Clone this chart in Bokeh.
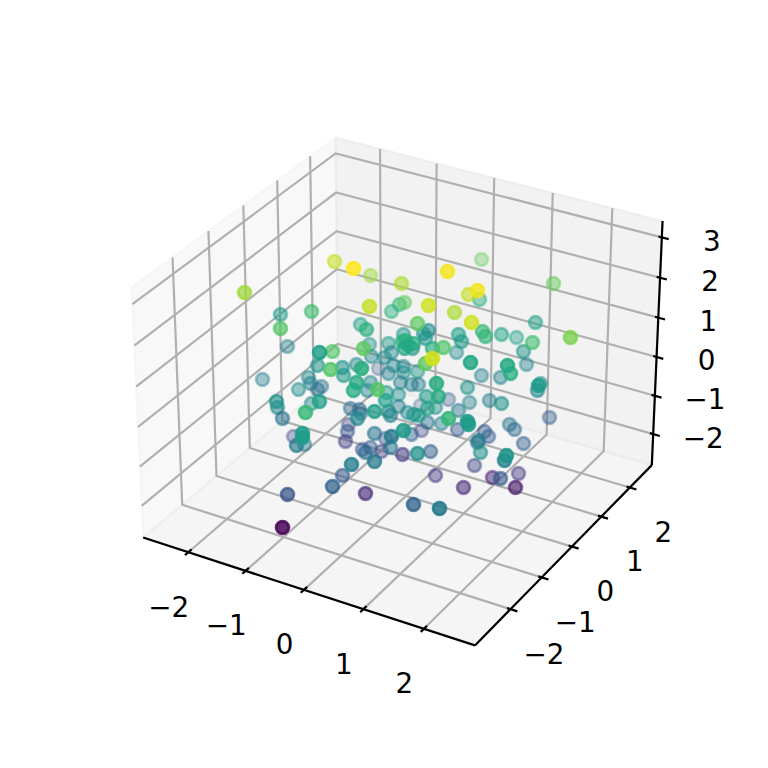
import numpy as np
from bokeh.plotting import figure, ColumnDataSource
from bokeh.embed import file_html
from bokeh.resources import INLINE
from bokeh.transform import linear_cmap
from bokeh.palettes import Viridis256
from bokeh.core.properties import value

# Scatter marks (horizontal, vertical reading), colour value, depth shade
read_h = [334,353,370,401,244,369,399,404,391,280,
          311,280,360,366,287,369,363,403,388,371,
          391,402,408,404,384,319,332,317,330,481,
          447,553,477,468,479,428,454,471,417,535,
          482,485,501,516,570,532,458,461,456,523,
          526,432,443,432,425,470,507,510,428,423,
          425,405,413,412,262,342,343,356,361,356,
          353,308,310,298,321,317,370,367,377,378,
          276,277,282,311,319,305,350,359,360,357,
          374,348,347,345,374,302,302,293,388,393,
          403,403,417,481,500,400,411,418,436,467,
          386,385,398,426,438,448,435,427,469,489,
          501,398,420,390,388,407,413,418,458,448,
          467,468,441,427,457,421,484,488,403,391,
          411,478,296,304,385,417,402,390,381,370,
          362,365,374,351,342,332,287,365,413,282,
          549,509,514,523,477,480,506,504,474,518,
          435,492,500,515,463,439,430,540,538,537]
read_v = [261,268,275,283,292,306,304,302,311,314,
          311,328,324,329,346,344,348,334,343,356,
          352,341,345,348,357,352,351,365,369,259,
          271,283,290,294,299,305,312,322,323,322,
          331,336,334,337,337,342,334,341,352,351,
          364,358,347,348,363,362,365,373,330,333,
          338,340,343,348,379,367,375,364,368,382,
          390,377,383,389,386,389,382,390,389,368,
          401,407,418,403,401,412,408,409,413,418,
          411,424,431,441,433,433,437,436,373,365,
          366,372,371,375,377,382,384,384,383,387,
          392,400,394,396,396,399,407,408,402,400,
          403,406,405,415,411,412,414,415,410,418,
          421,424,423,422,429,430,431,436,430,436,
          434,440,445,444,438,453,454,447,451,447,
          449,452,461,464,475,486,494,493,504,527,
          417,424,429,443,442,452,455,460,465,473,
          475,477,478,487,487,508,451,383,385,390]
colour_value = [2.5,3.0,2.2,2.3,2.2,2.5,1.0,1.6,1.0,0.5,
                1.3,1.5,0.6,1.0,-0.2,0.2,1.6,0.3,0.4,0.2,
                0.0,1.0,0.9,0.7,0.1,0.6,1.5,0.3,1.5,1.7,
                2.9,1.7,2.9,2.5,0.9,2.6,2.3,2.6,1.6,0.6,
                1.2,1.1,0.7,0.6,1.9,1.3,0.6,0.5,0.1,0.3,
                -0.1,2.6,1.5,0.9,1.6,0.7,0.8,0.9,0.1,0.4,
                0.3,0.8,0.8,0.2,-0.2,0.3,0.4,0.0,0.9,0.8,
                0.8,0.0,-0.1,0.1,-0.6,-0.5,0.1,0.0,1.5,-1.0,
                0.3,0.0,-0.5,0.1,0.6,1.2,-0.7,-0.7,-0.6,0.1,
                0.5,-1.5,-1.0,-1.6,-0.4,0.5,0.5,-1.4,-0.1,0.0,
                0.0,0.2,0.4,-0.1,-0.1,-0.1,-0.2,-0.2,0.9,0.3,
                0.3,0.6,0.2,0.5,0.8,-1.0,0.1,0.7,-0.1,-0.2,
                0.3,-0.2,-1.0,-0.1,0.1,0.0,0.3,0.4,-0.3,1.1,
                0.5,0.5,-0.1,-0.5,-1.0,-1.5,-1.0,-0.9,0.5,-0.3,
                -0.8,-0.3,-0.3,-0.3,-1.0,0.2,-1.6,-0.4,-1.6,-0.9,
                -1.2,-0.6,-0.3,-0.2,-1.0,-0.8,-1.1,-1.9,-0.8,-2.6,
                -0.9,-0.4,-0.7,-0.9,-0.3,0.2,0.3,-0.1,-1.4,-1.7,
                -1.7,-2.0,-1.0,-2.2,-2.0,-0.3,-0.9,0.1,0.5,0.0]
shade = [.6,.95,.5,.65,.8,.85,.5,.55,.5,.55,
         .65,.75,.5,.7,.45,.45,.8,.5,.5,.5,
         .5,.7,.7,.7,.5,.9,.7,.6,.85,.4,
         .9,.55,.9,.65,.5,.85,.7,.85,.75,.55,
         .7,.7,.55,.45,.85,.65,.6,.6,.45,.55,
         .45,.95,.75,.7,.85,.9,.9,.8,.6,.6,
         .6,.6,.7,.6,.45,.6,.6,.5,.9,.8,
         .8,.5,.5,.5,.45,.5,.5,.5,.85,.3,
         .7,.6,.6,.5,.8,.9,.5,.5,.5,.7,
         .8,.4,.5,.5,.6,.9,.9,.4,.5,.5,
         .5,.5,.5,.45,.5,.5,.5,.5,.9,.55,
         .5,.7,.5,.6,.8,.35,.5,.6,.45,.5,
         .6,.5,.3,.6,.6,.5,.6,.6,.5,.9,
         .9,.9,.5,.5,.5,.4,.5,.5,.9,.85,
         .5,.6,.7,.5,.45,.8,.6,.6,.45,.5,
         .5,.6,.8,.85,.6,.8,.8,.7,.85,.9,
         .45,.5,.5,.5,.6,.6,.9,.85,.5,.5,
         .5,.55,.65,.7,.6,.95,.55,.5,.85,.6]

x_ticks = [-2, -1, 0, 1, 2]
y_ticks = [-2, -1, 0, 1, 2]
z_ticks = [-2, -1, 0, 1, 2, 3]
x_lim = (-2.80, 2.83)
y_lim = (-3.105, 2.79)
z_lim = (-2.82, 3.40)


def label(v):
    return str(v).replace("-", "\u2212")


# Perspective view: elevation 30, azimuth -60, distance 10, box 4:4:3
BOX = np.array([4.0, 4.0, 3.0]) * 1.8294640721620434 / np.sqrt(41.0)
el, az = np.radians(30.0), np.radians(-60.0)
N = np.array([np.cos(el) * np.cos(az), np.cos(el) * np.sin(az), np.sin(el)])
U = np.cross([0.0, 0.0, 1.0], N)
U = U / np.linalg.norm(U)
V = np.cross(N, U)
SCALE, CX, CY = 3327.0, 401.5, 379.3


def proj(fx, fy, fz):
    """Project fractions of the box onto the picture."""
    p = (np.array([fx, fy, fz]) - 0.5) * BOX
    w = 10.0 - p @ N
    return CX + SCALE * (p @ U) / w, CY - SCALE * (p @ V) / w


def fx(v):
    return (v - x_lim[0]) / (x_lim[1] - x_lim[0])


def fy(v):
    return (v - y_lim[0]) / (y_lim[1] - y_lim[0])


def fz(v):
    return (v - z_lim[0]) / (z_lim[1] - z_lim[0])


def path(*pts):
    xy = [proj(*q) for q in pts]
    return [a for a, _ in xy], [b for _, b in xy]


p = figure(width=752, height=752, x_range=(0, 752), y_range=(752, 0),
           toolbar_location=None, output_backend="svg", min_border=0,
           x_axis_type=None, y_axis_type=None, outline_line_color=None,
           background_fill_color="white", border_fill_color="white")
p.grid.visible = False

# Panes
panes = [
    ([(0, 0, 0), (0, 1, 0), (0, 1, 1), (0, 0, 1)], "#f2f2f2"),
    ([(0, 1, 0), (1, 1, 0), (1, 1, 1), (0, 1, 1)], "#e6e6e6"),
    ([(0, 0, 0), (1, 0, 0), (1, 1, 0), (0, 1, 0)], "#ececec"),
]
for corners, col in panes:
    xs, ys = path(*corners)
    p.patch(xs, ys, fill_color=col, fill_alpha=0.5, line_color=col, line_alpha=0.5, line_width=2.2)

# Gridlines
gx, gy = [], []
for t in x_ticks:
    a, b = path((fx(t), 0, 0), (fx(t), 1, 0), (fx(t), 1, 1))
    gx.append(a); gy.append(b)
for t in y_ticks:
    a, b = path((1, fy(t), 0), (0, fy(t), 0), (0, fy(t), 1))
    gx.append(a); gy.append(b)
for t in z_ticks:
    a, b = path((0, 0, fz(t)), (0, 1, fz(t)), (1, 1, fz(t)))
    gx.append(a); gy.append(b)
p.multi_line(gx, gy, line_color="#b0b0b0", line_width=2.2, line_join="miter")

# Axis lines
ax, ay = [], []
for q in [((0, 0, 0), (1, 0, 0)), ((1, 0, 0), (1, 1, 0)), ((1, 1, 0), (1, 1, 1))]:
    a, b = path(*q)
    ax.append(a); ay.append(b)
p.multi_line(ax, ay, line_color="black", line_width=2.2)

# Tick marks
tx, ty = [], []
for t in x_ticks:
    a, b = path((fx(t), -0.016, 0), (fx(t), 0.016, 0))
    tx.append(a); ty.append(b)
for t in y_ticks:
    a, b = path((0.99, fy(t), 0), (1.02, fy(t), 0))
    tx.append(a); ty.append(b)
for t in z_ticks:
    a, b = path((0.99, 1, fz(t)), (1.02, 1, fz(t)))
    tx.append(a); ty.append(b)
p.multi_line(tx, ty, line_color="black", line_width=2.2)

# Tick labels
lx, ly, lt = [], [], []
for t in x_ticks:
    a, b = proj(fx(t), 0, 0)
    lx.append(a - 19.5); ly.append(b + 54); lt.append(label(t))
for t in y_ticks:
    a, b = proj(1, fy(t), 0)
    lx.append(a + 33.5); ly.append(b + 44); lt.append(label(t))
for t in z_ticks:
    a, b = proj(1, 1, fz(t))
    lx.append(a + 50); ly.append(b + 3); lt.append(label(t))
p.text(lx, ly, text=lt, text_font=value("DejaVu Sans"), text_font_size="27.8px",
       text_color="black", text_align="center", text_baseline="middle")

# Scatter, far marks first
order = np.argsort(shade, kind="stable")
src = ColumnDataSource(dict(
    h=np.array(read_h, float)[order],
    v=np.array(read_v, float)[order],
    c=np.array(colour_value, float)[order],
    a=np.array(shade, float)[order] * 0.92,
))
cmap = linear_cmap("c", Viridis256, -2.6, 3.0)
p.scatter("h", "v", source=src, size=12.8, marker="circle", fill_color=cmap, line_color=cmap,
          fill_alpha="a", line_alpha="a", line_width=2.8)

open("out.html", "w").write(file_html(p, INLINE))
